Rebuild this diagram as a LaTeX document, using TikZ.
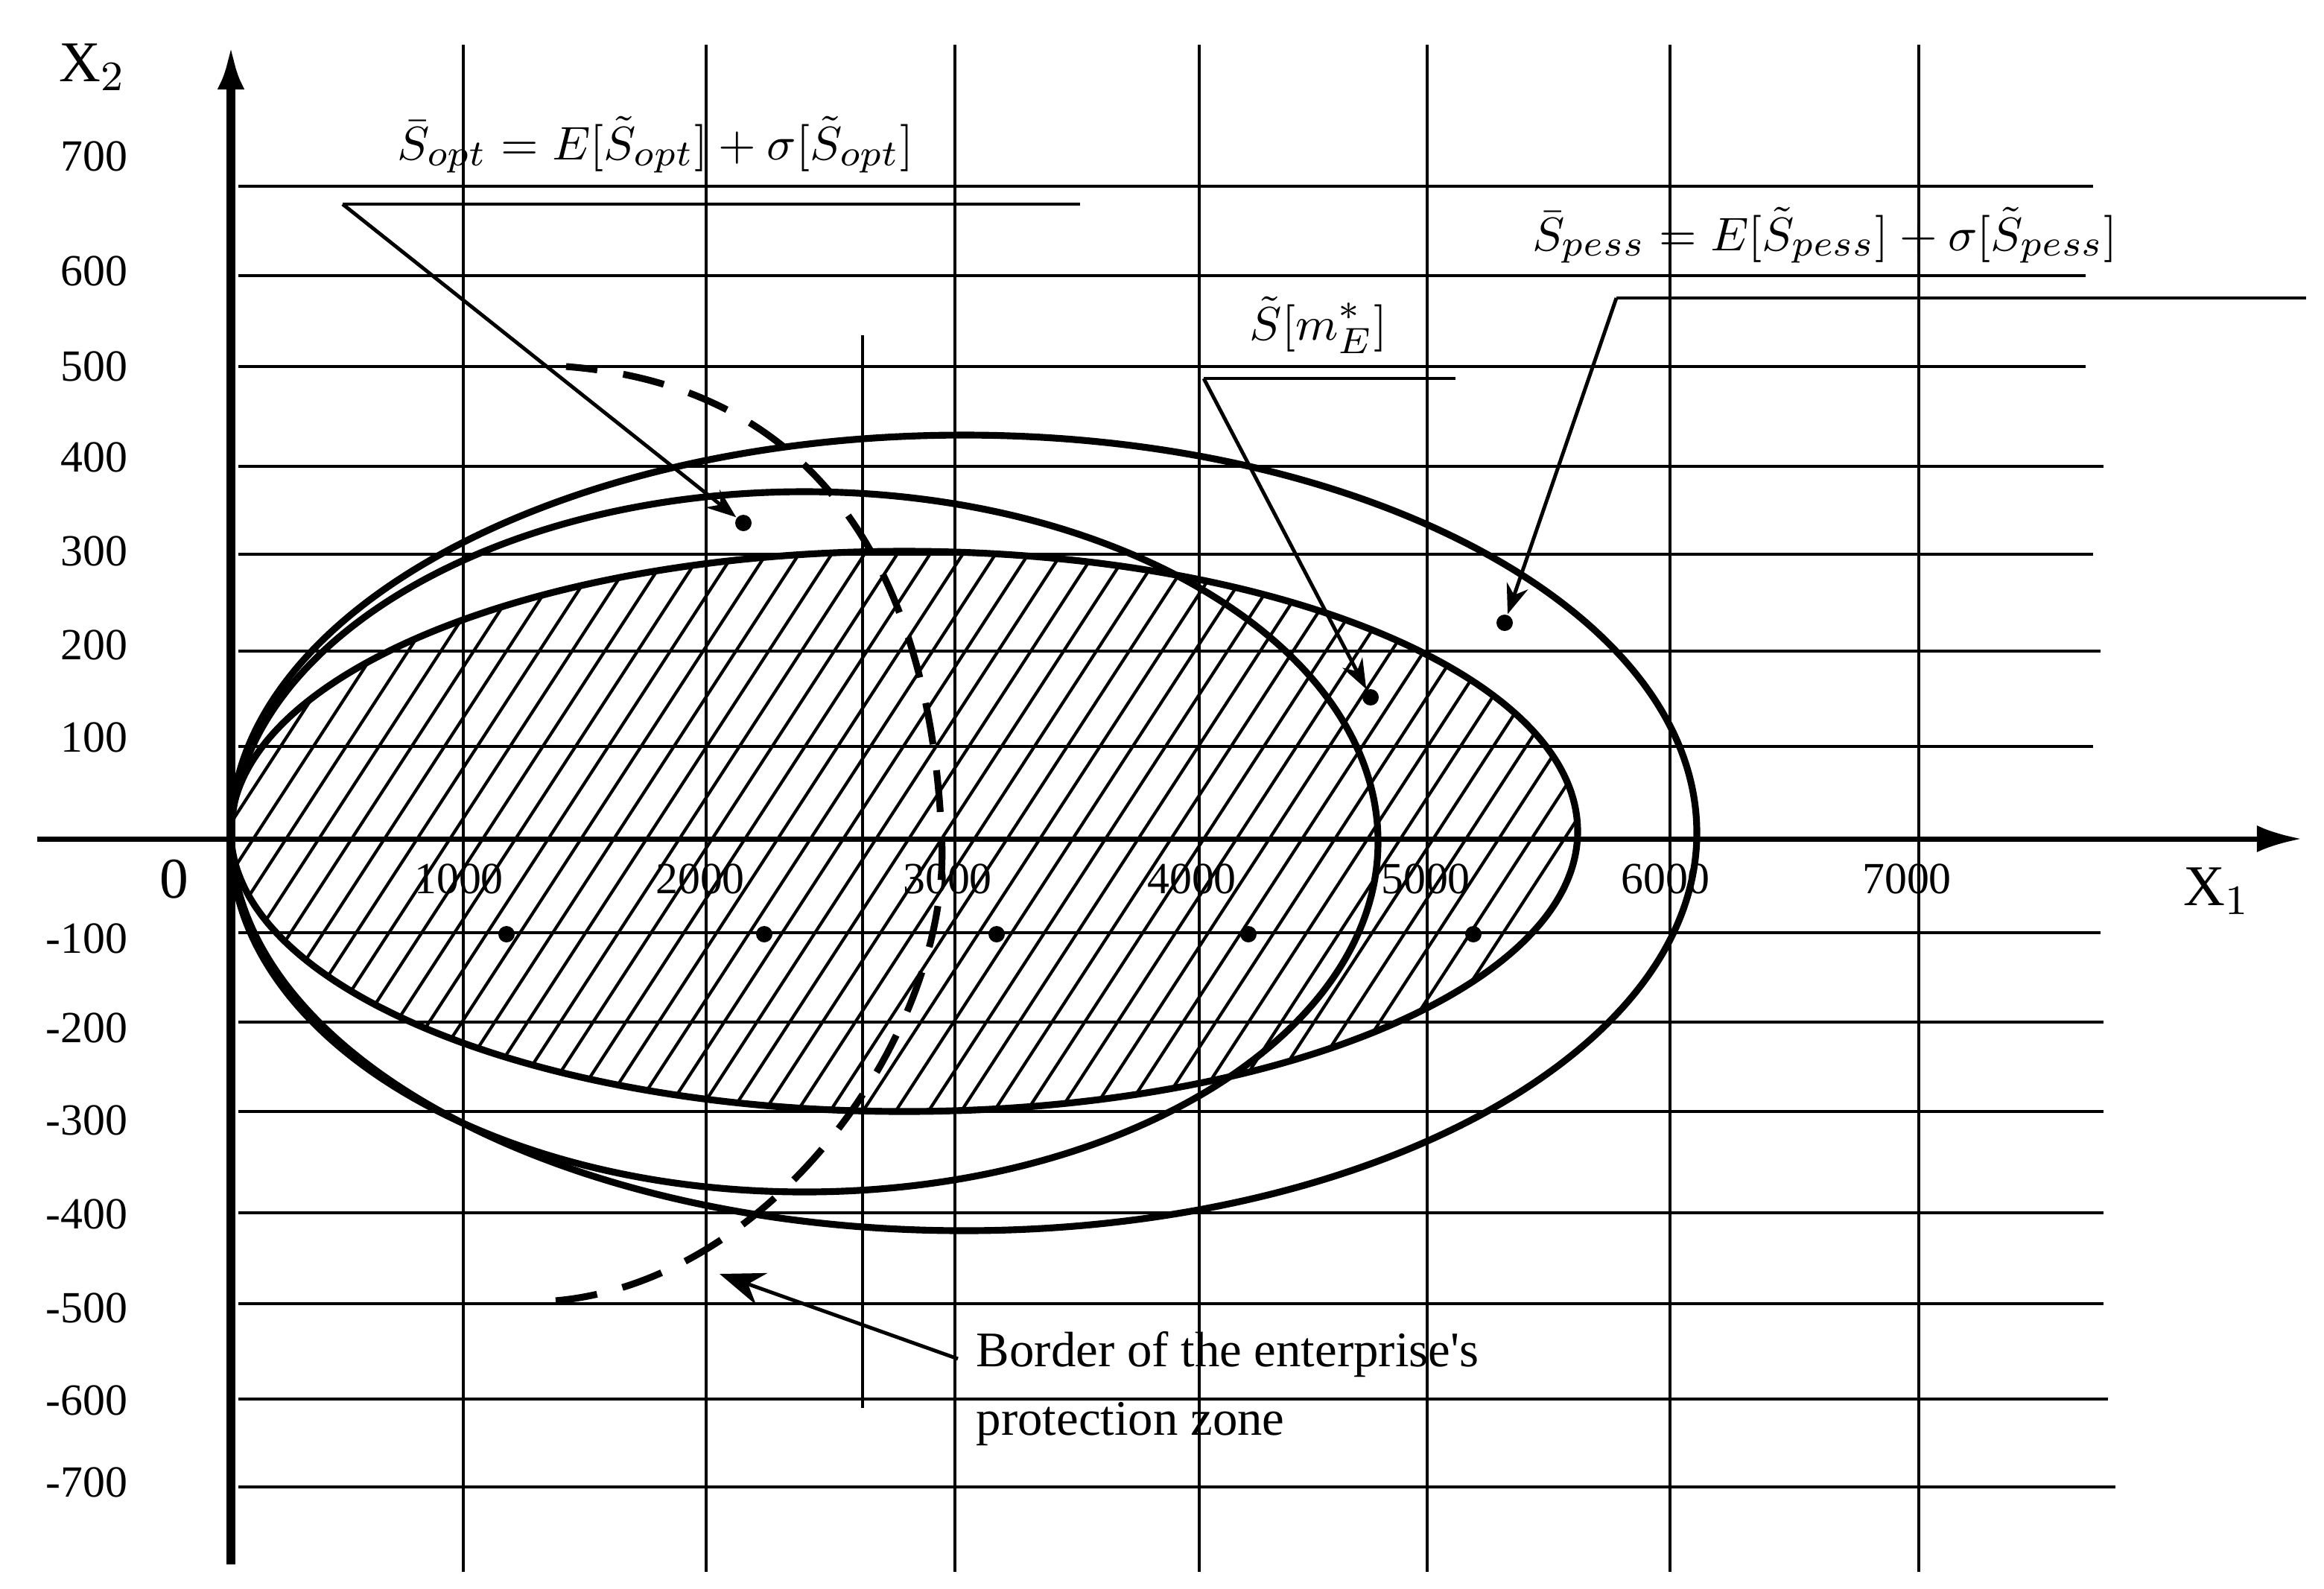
\documentclass[tikz,border=0pt]{standalone}
\usepackage{fontspec}
\setmainfont{Liberation Serif}
\usetikzlibrary{arrows.meta}
\begin{document}
\begin{tikzpicture}[x=0.01cm,y=-0.01cm,
  grid/.style={line width=0.7pt},
  curve/.style={line width=1.3pt},
  lab/.style={font=\fontsize{8.5pt}{10pt}\selectfont},
  mlab/.style={font=\fontsize{9.5pt}{11pt}\selectfont,inner sep=1pt},
  pt/.style={circle,fill,inner sep=0pt,minimum size=0.11cm}]
\useasboundingbox (0,0) rectangle (1560,1066);
% horizontal grid
\foreach \y/\e in {125/1405,185/1400,246/1400,313/1412,372/1405,437/1410,501/1405,626/1410,686/1412,746/1412,814/1412,875/1412,939/1415,998/1420}
  \draw[grid] (160,\y) -- (\e,\y);
\foreach \x in {311,474,641,805,958,1121,1288}
  \draw[grid] (\x,30) -- (\x,1055);
\draw[grid] (579,225) -- (579,945);
\draw[grid] (230,137) -- (725,137);
\draw[grid] (1085,200) -- (1548,200);
\draw[grid] (808,254) -- (977,254);
% hatched ellipse
\begin{scope}
\clip (607,558) ellipse [x radius=452,y radius=188];
\foreach \i in {0,...,60} \draw[line width=0.6pt] (-200+\i*22,760) -- ({-200+\i*22+260},360);
\end{scope}
\draw[curve] (607,558) ellipse [x radius=452,y radius=188];
\draw[curve] (647,559) ellipse [x radius=492,y radius=267];
\draw[curve] (540,565) ellipse [x radius=385,y radius=235];
% axes
\draw[line width=1.8pt,-{Latex[length=0.3cm,width=0.18cm]}] (155,1050) -- (155,30);
\draw[line width=1pt,-{Latex[length=0.3cm,width=0.18cm]}] (25,563) -- (1545,563);
% dashed border
\draw[curve,dash pattern=on 8pt off 5pt] (373,873) .. controls (520,860) and (640,690) .. (632,560) .. controls (625,400) and (560,260) .. (380,246);
% ticks labels
\foreach \y/\t in {105/700,182/600,246/500,307/400,370/300,433/200,495/100,630/-100,690/-200,752/-300,815/-400,878/-500,940/-600,995/-700}
  \node[lab,anchor=east] (ty\t) at (98,\y) {\t};
\foreach \x/\t in {308/1000,470/2000,636/3000,800/4000,957/5000,1118/6000,1280/7000}
  \node[lab] (tx\t) at (\x,590) {\t};
\node[font=\fontsize{11pt}{12pt}\selectfont] (o) at (117,590) {0};
\node[font=\fontsize{11pt}{12pt}\selectfont] (x1) at (1488,598) {X$_1$};
\node[font=\fontsize{11pt}{12pt}\selectfont] (x2) at (62,45) {X$_2$};
% dots
\node[pt] (d1) at (499,351) {};
\node[pt] (d2) at (1010,418) {};
\node[pt] (d3) at (920,468) {};
\foreach \x/\n in {340/a,513/b,669/c,838/d,989/e} \node[pt] (b\n) at (\x,627) {};
% pointers
\coordinate (p1) at (230,137);
\coordinate (p2) at (808,254);
\coordinate (p3) at (1085,200);
\draw[grid,-{Stealth[length=0.2cm]}] (p1) -- (d1);
\draw[grid,-{Stealth[length=0.2cm]}] (p2) -- (d3);
\draw[grid,-{Stealth[length=0.2cm]}] (p3) -- (d2);
% labels
\node[mlab] (lopt) at (440,97) {$\bar S_{opt}=E[\tilde S_{opt}]+\sigma[\tilde S_{opt}]$};
\node[mlab] (lpess) at (1225,158) {$\bar S_{pess}=E[\tilde S_{pess}]+\sigma[\tilde S_{pess}]$};
\node[mlab] (lm) at (885,218) {$\tilde S[m_E^*]$};
\node[font=\fontsize{9.5pt}{13pt}\selectfont,align=left,anchor=west] (bord) at (643,932) {Border of the enterprise\textquotesingle s\\protection zone};
\coordinate (bt) at (483,855);
\draw[grid,-{Stealth[length=0.3cm]}] (bord.west |- 0,912) -- (bt);
\end{tikzpicture}
\end{document}
